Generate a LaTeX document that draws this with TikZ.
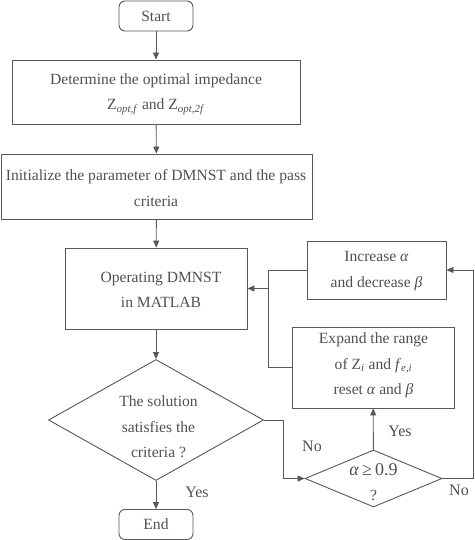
\documentclass[tikz,border=0pt]{standalone}
\usepackage{fontspec}
\setmainfont{Liberation Serif}
\usetikzlibrary{shapes.geometric,arrows.meta}
\definecolor{ln}{RGB}{88,88,88}
\definecolor{tx}{RGB}{80,80,80}
\begin{document}
\begin{tikzpicture}[x=1pt,y=-1pt,
  every node/.style={text=tx,font=\fontsize{15.6}{25.5}\selectfont,align=center,inner sep=0pt},
  box/.style={draw=ln,line width=0.9pt,rectangle},
  term/.style={draw=ln,line width=0.9pt,rectangle,rounded corners=6pt},
  dia/.style={draw=ln,line width=0.9pt,diamond,inner sep=0pt},
  conn/.style={draw=ln,line width=0.9pt},
  arr/.style={conn,-{Triangle[length=7pt,width=6pt]}},
  lbl/.style={font=\fontsize{16}{19}\selectfont}]
\useasboundingbox (0,0) rectangle (474,540);
% nodes
\node[term,minimum width=74pt,minimum height=30pt] (start) at (156,16) {Start};
\node[box,minimum width=288pt,minimum height=64pt] (det) at (156,92) {};
\node (dett) at (156,94) {Determine the optimal impedance\\Z\textsubscript{\textit{opt,f}} and Z\textsubscript{\textit{opt,2f}}};
\node[box,minimum width=311pt,minimum height=65pt] (init) at (156.5,186.5) {};
\node (initt) at (156,188) {Initialize the parameter of DMNST and the pass\\criteria};
\node[box,minimum width=182pt,minimum height=81pt] (op) at (156,288.5) {};
\node (opt) at (161,290) {Operating DMNST\\in MATLAB};
\node[dia,minimum width=215pt,minimum height=121pt] (d1) at (156,420) {};
\node (d1t) at (158.5,427) {The solution\\satisfies the\\criteria ?};
\node[term,minimum width=74pt,minimum height=30pt] (end) at (156,524.5) {End};
\node[box,minimum width=139pt,minimum height=58pt] (inc) at (376.5,270) {};
\node (inct) at (376.5,271) {Increase \textit{α}\\and decrease \textit{β}};
\node[box,minimum width=162pt,minimum height=81pt] (exp) at (373,367.5) {};
\node (expt) at (373.5,365.5) {Expand the range\\of Z\textsubscript{\textit{i}} and \textit{f}\textsubscript{\textit{e,i}}\\reset \textit{α} and \textit{β}};
\node[dia,minimum width=137pt,minimum height=57pt] (d2) at (373.5,478.5) {};
\node (d2t) at (373.5,482) {{\fontsize{18}{25.5}\selectfont\textit{α}\,≥\,0.9}\\?};
\coordinate (j1) at (283,420);
\coordinate (j2) at (283,478.5);
\coordinate (j3) at (473,478.5);
\coordinate (j4) at (473,270);
\coordinate (j5) at (268,270);
\coordinate (j6) at (268,367.5);
\coordinate (j7) at (268,288.5);
% connectors
\draw[arr] (start) -- (det);
\draw[arr] (det) -- (init);
\draw[arr] (init) -- (op);
\draw[arr] (op) -- (d1);
\draw[arr] (d1) -- (end);
\draw[arr] (d1.east) -- (j1) -- (j2) -- (d2.west);
\draw[arr] (d2) -- (exp);
\draw[arr] (d2.east) -- (j3) -- (j4) -- (inc.east);
\draw[conn] (inc.west) -- (j5) -- (j6) -- (exp.west);
\draw[arr] (j7) -- (op.east);
% labels
\node[lbl] (yes1) at (197,492) {Yes};
\node[lbl] (no1) at (312,446) {No};
\node[lbl] (yes2) at (400,431) {Yes};
\node[lbl] (no2) at (459,490) {No};
\end{tikzpicture}
\end{document}
